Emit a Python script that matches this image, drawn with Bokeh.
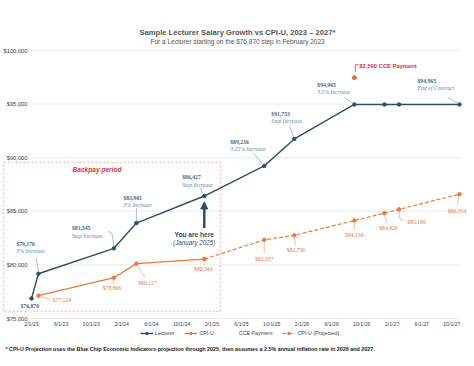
import pandas as pd
from bokeh.plotting import figure
from bokeh.models import (ColumnDataSource, LabelSet, Label, BoxAnnotation, Arrow, NormalHead,
                          FixedTicker, NumeralTickFormatter, Legend, LegendItem, Range1d,
                          DatetimeAxis, LinearAxis, Grid)
from bokeh.embed import file_html
from bokeh.resources import INLINE

# ---------------- data ----------------
lect_dates = ["2023-02-01", "2023-03-01", "2024-01-01", "2024-04-01", "2025-01-01", "2025-09-01",
              "2026-01-01", "2026-09-01", "2027-01-01", "2027-03-01", "2027-11-01"]
lect_salary = [76870, 79176, 81545, 83901, 86427, 89236, 91753, 94965, 94965, 94965, 94965]
lect_notes = ["", "3% Increase", "Step Increase", "3% Increase", "Step Increase", "3.25% Increase",
              "Step Increase", "3.5% Increase", "", "", "End of Contract"]
lect_labeled = [True, True, True, True, True, True, True, True, False, False, True]

cpi_dates = ["2023-03-01", "2024-01-01", "2024-04-01", "2025-01-01"]
cpi_values = [77124, 78806, 80117, 80540]

proj_dates = ["2025-01-01", "2025-09-01", "2026-01-01", "2026-09-01", "2027-01-01", "2027-03-01", "2027-11-01"]
proj_values = [80540, 82337, 82756, 84134, 84826, 85180, 86594]

cce_dates = ["2026-09-01"]
cce_values = [97465]
cce_text = "$2,500 CCE Payment"

x_tick_labels = ["2/1/23", "6/1/23", "10/1/23", "2/1/24", "6/1/24", "10/1/24", "2/1/25", "6/1/25",
                 "10/1/25", "2/1/26", "6/1/26", "10/1/26", "2/1/27", "6/1/27", "10/1/27"]
y_ticks = [75000, 80000, 85000, 90000, 95000, 100000]

title_text = "Sample Lecturer Salary Growth vs CPI-U, 2023 \u2013 2027*"
subtitle_text = "For a Lecturer starting on the $76,870 step in February 2023"
footnote_text = ("* CPI-U Projection uses the Blue Chip Economic Indicators projection through 2025, "
                 "then assumes a 2.5% annual inflation rate in 2026 and 2027.")

# ---------------- styling / layout ----------------
FONT = "Liberation Sans"
TEAL = "#2c5068"
TEAL_VAL = "#3a6884"
TEAL_NOTE = "#5a8dab"
ORANGE = "#ea7a3c"
ORANGE_TXT = "#e8763d"
RED = "#e3343c"

W, H = 472, 364
# pixel box of the plotting area (where first/last date and lowest/highest tick fall)
PL, PR, PT, PB = 31, 459, 50, 318


def ms(s):
    return pd.Timestamp(s).value / 1e6


d0, d1 = ms(lect_dates[0]), ms(lect_dates[-1])
px_per_ms = (PR - PL) / (d1 - d0)
px_per_usd = (PB - PT) / (y_ticks[-1] - y_ticks[0])
x_start = d0 - PL / px_per_ms
x_end = x_start + W / px_per_ms
y_end = y_ticks[-1] + PT / px_per_usd
y_start = y_end - H / px_per_usd


def px2x(px):
    return x_start + px / px_per_ms


def px2y(py):
    return y_end - py / px_per_usd


p = figure(width=W, height=H, output_backend="svg", toolbar_location=None,
           x_range=Range1d(x_start, x_end), y_range=Range1d(y_start, y_end),
           x_axis_location=None, y_axis_location=None, min_border=0)
p.outline_line_color = None
p.background_fill_color = "white"
p.border_fill_color = "white"
for r in list(p.center):
    if isinstance(r, Grid):
        r.visible = False

# horizontal gridlines across the plotting area
p.segment(x0=[px2x(PL)] * len(y_ticks), x1=[px2x(PR)] * len(y_ticks), y0=y_ticks, y1=y_ticks,
          line_color="#e6e6e6", line_width=0.8)

# axes
tick_ms = [ms(pd.to_datetime(t, format="%m/%d/%y")) for t in x_tick_labels]
xaxis = DatetimeAxis(fixed_location=y_ticks[0], ticker=FixedTicker(ticks=tick_ms),
                     major_label_overrides={t: lab for t, lab in zip(tick_ms, x_tick_labels)},
                     major_label_text_font=FONT, major_label_text_font_size="5.2px",
                     major_label_text_color="#444444", major_label_standoff=2,
                     axis_line_color=None, major_tick_line_color=None, minor_tick_line_color=None,
                     major_tick_out=0, minor_tick_out=0)
p.add_layout(xaxis, "below")
yaxis = LinearAxis(fixed_location=px2x(PL), ticker=FixedTicker(ticks=y_ticks),
                   formatter=NumeralTickFormatter(format="$0,0"),
                   major_label_text_font=FONT, major_label_text_font_size="5.75px",
                   major_label_text_color="#444444", major_label_standoff=4,
                   axis_line_color=None, major_tick_line_color=None, minor_tick_line_color=None,
                   major_tick_out=0, minor_tick_out=0)
p.add_layout(yaxis, "left")

# backpay box
box = BoxAnnotation(left=px2x(3), right=px2x(220), top=px2y(162), bottom=px2y(311),
                    fill_alpha=0, line_color=RED, line_width=1.6, line_dash="2 2")
p.add_layout(box)
p.add_layout(Label(x=px2x(96.5), y=px2y(169), text="Backpay period", text_font=FONT,
                   text_font_size="6.6px", text_font_style="bold italic", text_color=RED,
                   text_align="center", text_baseline="middle"))

# series
lx = [ms(d) for d in lect_dates]
cx = [ms(d) for d in cpi_dates]
px_ = [ms(d) for d in proj_dates]
ex = [ms(d) for d in cce_dates]

proj_line = p.line(px_, proj_values, line_color=ORANGE, line_width=1.2, line_dash="4 2")
proj_pts = p.scatter(px_, proj_values, size=3.5, color=ORANGE)
cpi_line = p.line(cx, cpi_values, line_color=ORANGE, line_width=1.3)
cpi_pts = p.scatter(cx, cpi_values, size=3.5, color=ORANGE)
lect_line = p.line(lx, lect_salary, line_color=TEAL, line_width=1.4)
lect_pts = p.scatter(lx, lect_salary, size=3.5, color=TEAL)
cce_pts = p.scatter(ex, cce_values, size=4, color="#ea6a3c")
cce_dummy = p.line([ex[0]], [cce_values[0]], line_color=RED, line_width=1.5, line_alpha=0)


# leader lines (pixel offsets from each point)
def leaders(xs, ys, offsets):
    out_x, out_y = [], []
    for x, y, off in zip(xs, ys, offsets):
        if not off:
            continue
        out_x.append([x + dx / px_per_ms for dx, dy in off])
        out_y.append([y - dy / px_per_usd for dx, dy in off])
    return out_x, out_y


lect_leader_off = [None, [(-2, -16), (0, -2)], [(-6, -17), (-2, -15), (0, -2)], [(0, -15), (0, -2)],
                   [(-4, -8), (-1, -2)], [(-11, -13), (-1, -1)], [(-5, -14), (-1, -2)],
                   [(-10, -7), (-1, -1)], None, None, [(-12, -7), (-1, -1)]]
lxs, lys = leaders(lx, lect_salary, lect_leader_off)
p.multi_line(lxs, lys, line_color="#8fa3b0", line_width=0.7)

cpi_leader_off = [[(3, 1), (12, 4)], [(0, 2), (-1, 6)], [(1, 2), (9, 14)], [(0, 2), (0, 6)]]
cxs, cys = leaders(cx, cpi_values, cpi_leader_off)
proj_leader_off = [None, [(0, 2), (0, 13)], [(0, 2), (1, 10)], [(0, 2), (0, 9)], [(0, 2), (2, 10)],
                   [(0, 2), (1, 10), (5, 11)], [(-1, 2), (-2, 11)]]
pxs, pys = leaders(px_, proj_values, proj_leader_off)
p.multi_line(cxs + pxs, cys + pys, line_color="#eda07a", line_width=0.7)

exs, eys = leaders(ex, cce_values, [[(1, -6), (1, -13), (4, -13)]])
p.multi_line(exs, eys, line_color=RED, line_width=0.8)

# lecturer labels
lect_val_dx = [-11, -22, -42, -13, -22, -34, -23, -37, 0, 0, -42]
lect_val_dy = [8, -30, -20, -25, -19, -24, -25, -19, 0, 0, -23]
lect_note_dy = [0, -23, -12, -18, -11, -17, -18, -12, 0, 0, -16]
sel = [i for i, f in enumerate(lect_labeled) if f]
lsrc = ColumnDataSource(dict(
    x=[lx[i] for i in sel], y=[lect_salary[i] for i in sel],
    val=["${:,}".format(lect_salary[i]) for i in sel], note=[lect_notes[i] for i in sel],
    dx=[lect_val_dx[i] for i in sel], vy=[-lect_val_dy[i] for i in sel],
    ny=[-lect_note_dy[i] for i in sel]))
p.add_layout(LabelSet(x="x", y="y", text="val", source=lsrc, x_offset="dx", y_offset="vy",
                      text_font=FONT, text_font_size="5.7px", text_font_style="bold",
                      text_color=TEAL_VAL, text_align="left", text_baseline="middle"))
p.add_layout(LabelSet(x="x", y="y", text="note", source=lsrc, x_offset="dx", y_offset="ny",
                      text_font=FONT, text_font_size="5.7px", text_font_style="italic",
                      text_color=TEAL_NOTE, text_align="left", text_baseline="middle"))

# CPI labels
cpi_dx = [23.5, -2, 11, -1]
cpi_dy = [4, 10, 19, 10]
proj_dx = [0, 1.5, 0, 4, 17.5, -2.5]
proj_dy = [19, 15, 14.5, 15, 12.5, 17]
csrc = ColumnDataSource(dict(
    x=cx + px_[1:], y=cpi_values + proj_values[1:],
    txt=["${:,}".format(v) for v in cpi_values + proj_values[1:]],
    dx=cpi_dx + proj_dx, dy=[-d for d in cpi_dy + proj_dy]))
p.add_layout(LabelSet(x="x", y="y", text="txt", source=csrc, x_offset="dx", y_offset="dy",
                      text_font=FONT, text_font_size="5.7px", text_color=ORANGE_TXT,
                      text_align="center", text_baseline="middle"))

# CCE label
p.add_layout(Label(x=ex[0], y=cce_values[0], x_offset=5, y_offset=12, text=cce_text,
                   text_font=FONT, text_font_size="5.8px", text_font_style="bold",
                   text_color="#d8343a", text_align="left", text_baseline="middle"))

# You are here
here_i = 4
p.add_layout(Arrow(end=NormalHead(size=7, fill_color=TEAL, line_color=TEAL, line_width=1),
                   x_start=lx[here_i], y_start=lect_salary[here_i] - 32 / px_per_usd,
                   x_end=lx[here_i], y_end=lect_salary[here_i] - 6 / px_per_usd,
                   line_color=TEAL, line_width=2.5))
p.add_layout(Label(x=lx[here_i], y=lect_salary[here_i], x_offset=-10, y_offset=-38,
                   text="You are here", text_font=FONT, text_font_size="6.6px",
                   text_font_style="bold", text_color=TEAL, text_align="center",
                   text_baseline="middle"))
p.add_layout(Label(x=lx[here_i], y=lect_salary[here_i], x_offset=-10, y_offset=-46,
                   text="(January 2025)", text_font=FONT, text_font_size="6.3px",
                   text_font_style="italic", text_color=TEAL, text_align="center",
                   text_baseline="middle"))

# legend below the plotting area
legend = Legend(items=[LegendItem(label="Lecturer", renderers=[lect_line, lect_pts]),
                       LegendItem(label="CPI-U", renderers=[cpi_line, cpi_pts]),
                       LegendItem(label="CCE Payment", renderers=[cce_dummy]),
                       LegendItem(label="CPI-U (Projected)", renderers=[proj_line, proj_pts])],
                orientation="horizontal", location=(140, H - 336),
                label_text_font=FONT, label_text_font_size="5.3px", label_text_color="#444444",
                glyph_width=13, glyph_height=6, label_standoff=2, spacing=10,
                padding=0, margin=0, border_line_color=None, background_fill_alpha=0,
                label_height=6, label_width=1)
p.add_layout(legend)

# titles and footnote
p.add_layout(Label(x=px2x(139), y=px2y(32), text=title_text, text_font=FONT,
                   text_font_size="7.6px", text_font_style="bold", text_color="#555555",
                   text_align="left", text_baseline="middle"))
p.add_layout(Label(x=px2x(150), y=px2y(41), text=subtitle_text, text_font=FONT,
                   text_font_size="6.5px", text_color="#555555",
                   text_align="left", text_baseline="middle"))
p.add_layout(Label(x=px2x(5), y=px2y(348), text=footnote_text, text_font=FONT,
                   text_font_size="5.4px", text_font_style="bold", text_color="#222222",
                   text_align="left", text_baseline="middle"))

open("out.html", "w").write(file_html(p, INLINE))
